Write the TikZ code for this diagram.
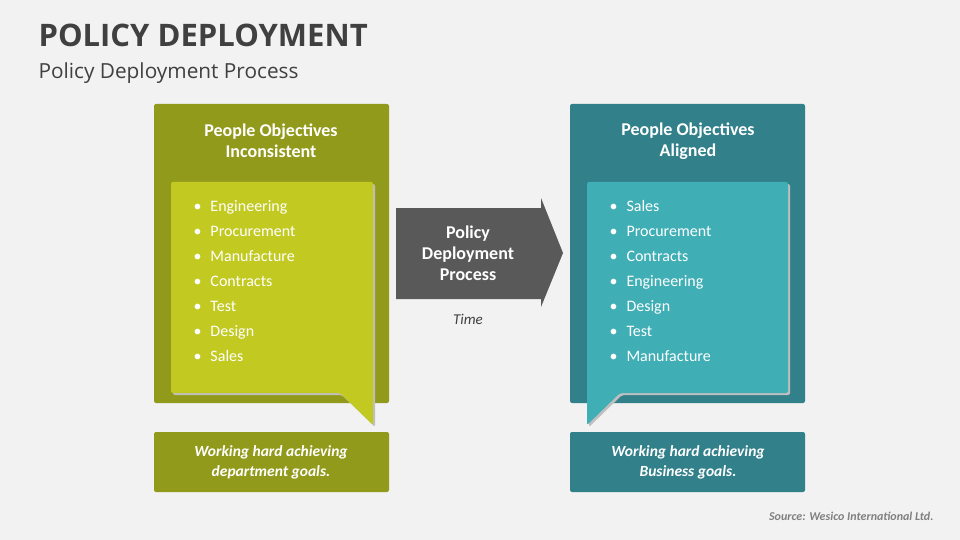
\documentclass[tikz,border=0pt]{standalone}
\usepackage{fontspec}
\setmainfont{Carlito}
\newfontfamily\titlefont{Open Sans}
\usetikzlibrary{positioning, shapes.arrows}
\definecolor{bgray}{HTML}{F2F2F2}
\definecolor{olive}{HTML}{929A1B}
\definecolor{lime}{HTML}{C2CA22}
\definecolor{teal}{HTML}{31808A}
\definecolor{aqua}{HTML}{3FAEB5}
\definecolor{arrowgray}{HTML}{595959}
\definecolor{darktext}{HTML}{404040}

\begin{document}
\begin{tikzpicture}[x=1pt, y=-1pt,
                    panel/.style={rounded corners=2pt},
                    head/.style={text=white, font=\bfseries\fontsize{18}{21}\selectfont, align=center},
                    item/.style={text=white, font=\fontsize{16}{18}\selectfont, anchor=base west},
                    note/.style={text=white, font=\bfseries\itshape\fontsize{15.5}{20}\selectfont, align=center}
                    ]
        \fill[bgray] (0,0) rectangle (960,540);
        \useasboundingbox (0,0) rectangle (960,540);

        % title
        \node[anchor=west, text=darktext, font=\titlefont\bfseries\fontsize{31}{34}\selectfont] (title) at (35,35) {POLICY DEPLOYMENT};
        \node[anchor=west, text=darktext, font=\titlefont\fontsize{20.8}{24}\selectfont] (subtitle) at (35,73) {Policy Deployment Process};

        % left panel
        \fill[olive, panel] (154,104) rectangle (389,403);
        \fill[black!25, panel] (173,184) -- (375,184) -- (375,427) -- (342,395) -- (173,395) -- cycle;
        \fill[lime, panel] (171,182) -- (373,182) -- (373,425) -- (340,393) -- (171,393) -- cycle;
        \node[head] (lhead) at (271,141) {People Objectives\\Inconsistent};
        \foreach \t [count=\i] in {Engineering,Procurement,Manufacture,Contracts,Test,Design,Sales} {
            \node[item] (l\i) at (190,186+25*\i) {\textbullet\hspace{9pt}\t};
        }
        \fill[olive, panel] (154,432) rectangle (389,492);
        \node[note] (lnote) at (271,462) {Working hard achieving\\department goals.};

        % arrow
        \fill[arrowgray] (396,208) -- (541,208) -- (541,198) -- (563,253) -- (541,307) -- (541,299) -- (396,299) -- cycle;
        \node[head] (proc) at (468,253) {Policy\\Deployment\\Process};
        \node[text=darktext, font=\itshape\fontsize{15}{17}\selectfont] (time) at (468,319) {Time};

        % right panel
        \fill[teal, panel] (570,104) rectangle (805,403);
        \fill[black!25, panel] (589,184) -- (790,184) -- (790,395) -- (622,395) -- (589,427) -- cycle;
        \fill[aqua, panel] (587,182) -- (788,182) -- (788,393) -- (620,393) -- (587,425) -- cycle;
        \node[head] (rhead) at (688,141) {People Objectives\\Aligned};
        \foreach \t [count=\i] in {Sales,Procurement,Contracts,Engineering,Design,Test,Manufacture} {
            \node[item] (r\i) at (606,186+25*\i) {\textbullet\hspace{9pt}\t};
        }
        \fill[teal, panel] (570,432) rectangle (805,492);
        \node[note] (rnote) at (688,462) {Working hard achieving\\Business goals.};

        % source
        \node[anchor=east, text=gray, font=\bfseries\itshape\fontsize{12}{14}\selectfont] (source) at (937,516) {Source: Wesico International Ltd.};
    \end{tikzpicture}
\end{document}
